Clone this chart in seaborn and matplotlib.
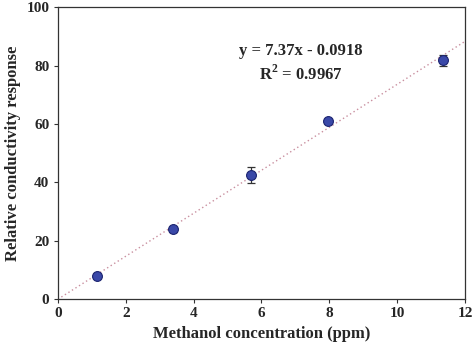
import numpy as np
import pandas as pd
import matplotlib.pyplot as plt
import seaborn as sns

# data
conc = [1.14, 3.40, 5.68, 7.96, 11.36]
response = [7.9, 23.9, 42.5, 61.1, 81.8]
err = [0.6, 0.8, 2.8, 0.6, 2.0]
slope, intercept = 7.37, -0.0918
x_ticks = [0, 2, 4, 6, 8, 10, 12]
y_ticks = [0, 20, 40, 60, 80, 100]

df = pd.DataFrame({'conc': conc, 'response': response, 'err': err})

sns.set_style('white')
plt.rcParams['font.family'] = ['Liberation Serif', 'DejaVu Serif']
plt.rcParams['font.weight'] = 'bold'
plt.rcParams['mathtext.fontset'] = 'custom'
plt.rcParams['mathtext.bf'] = 'Liberation Serif:bold'
plt.rcParams['mathtext.rm'] = 'Liberation Serif:bold'

fig = plt.figure(figsize=(4.74, 3.53), dpi=100)
ax = fig.add_axes([0.122, 0.153, 0.859, 0.826])

# trend line from the fitted equation
fit_x = np.array([0, 12])
ax.plot(fit_x, slope * fit_x + intercept, linestyle=(0, (1, 2)), color='#c98f9f', lw=1, zorder=1)

ax.errorbar(df['conc'], df['response'], yerr=df['err'], fmt='none', ecolor='#333333',
            elinewidth=0.9, capsize=3, capthick=0.9, zorder=2)
sns.scatterplot(data=df, x='conc', y='response', ax=ax, s=50, color='#3a48a8',
                edgecolor='#1c2470', linewidth=0.8, zorder=3)

ax.set_xlim(0, 12)
ax.set_ylim(0, 100)
ax.set_xticks(x_ticks)
ax.set_yticks(y_ticks)
ax.tick_params(axis='both', direction='out', length=3, width=0.8, labelsize=11, pad=3,
               bottom=True, left=True, color='#333333')
for lab in ax.get_xticklabels() + ax.get_yticklabels():
    lab.set_fontweight('bold')
for s in ax.spines.values():
    s.set_color('#333333')
    s.set_linewidth(0.9)

ax.set_xlabel('Methanol concentration (ppm)', fontsize=12, fontweight='bold', labelpad=4)
ax.set_ylabel('Relative conductivity response', fontsize=12, fontweight='bold', labelpad=4)

ax.text(7.16, 85, 'y = 7.37x - 0.0918', ha='center', va='center', fontsize=12, fontweight='bold')
ax.text(7.16, 77, r'R$^{\mathrm{2}}$ = 0.9967', ha='center', va='center', fontsize=12, fontweight='bold')

fig.savefig('out.png', dpi=100)
